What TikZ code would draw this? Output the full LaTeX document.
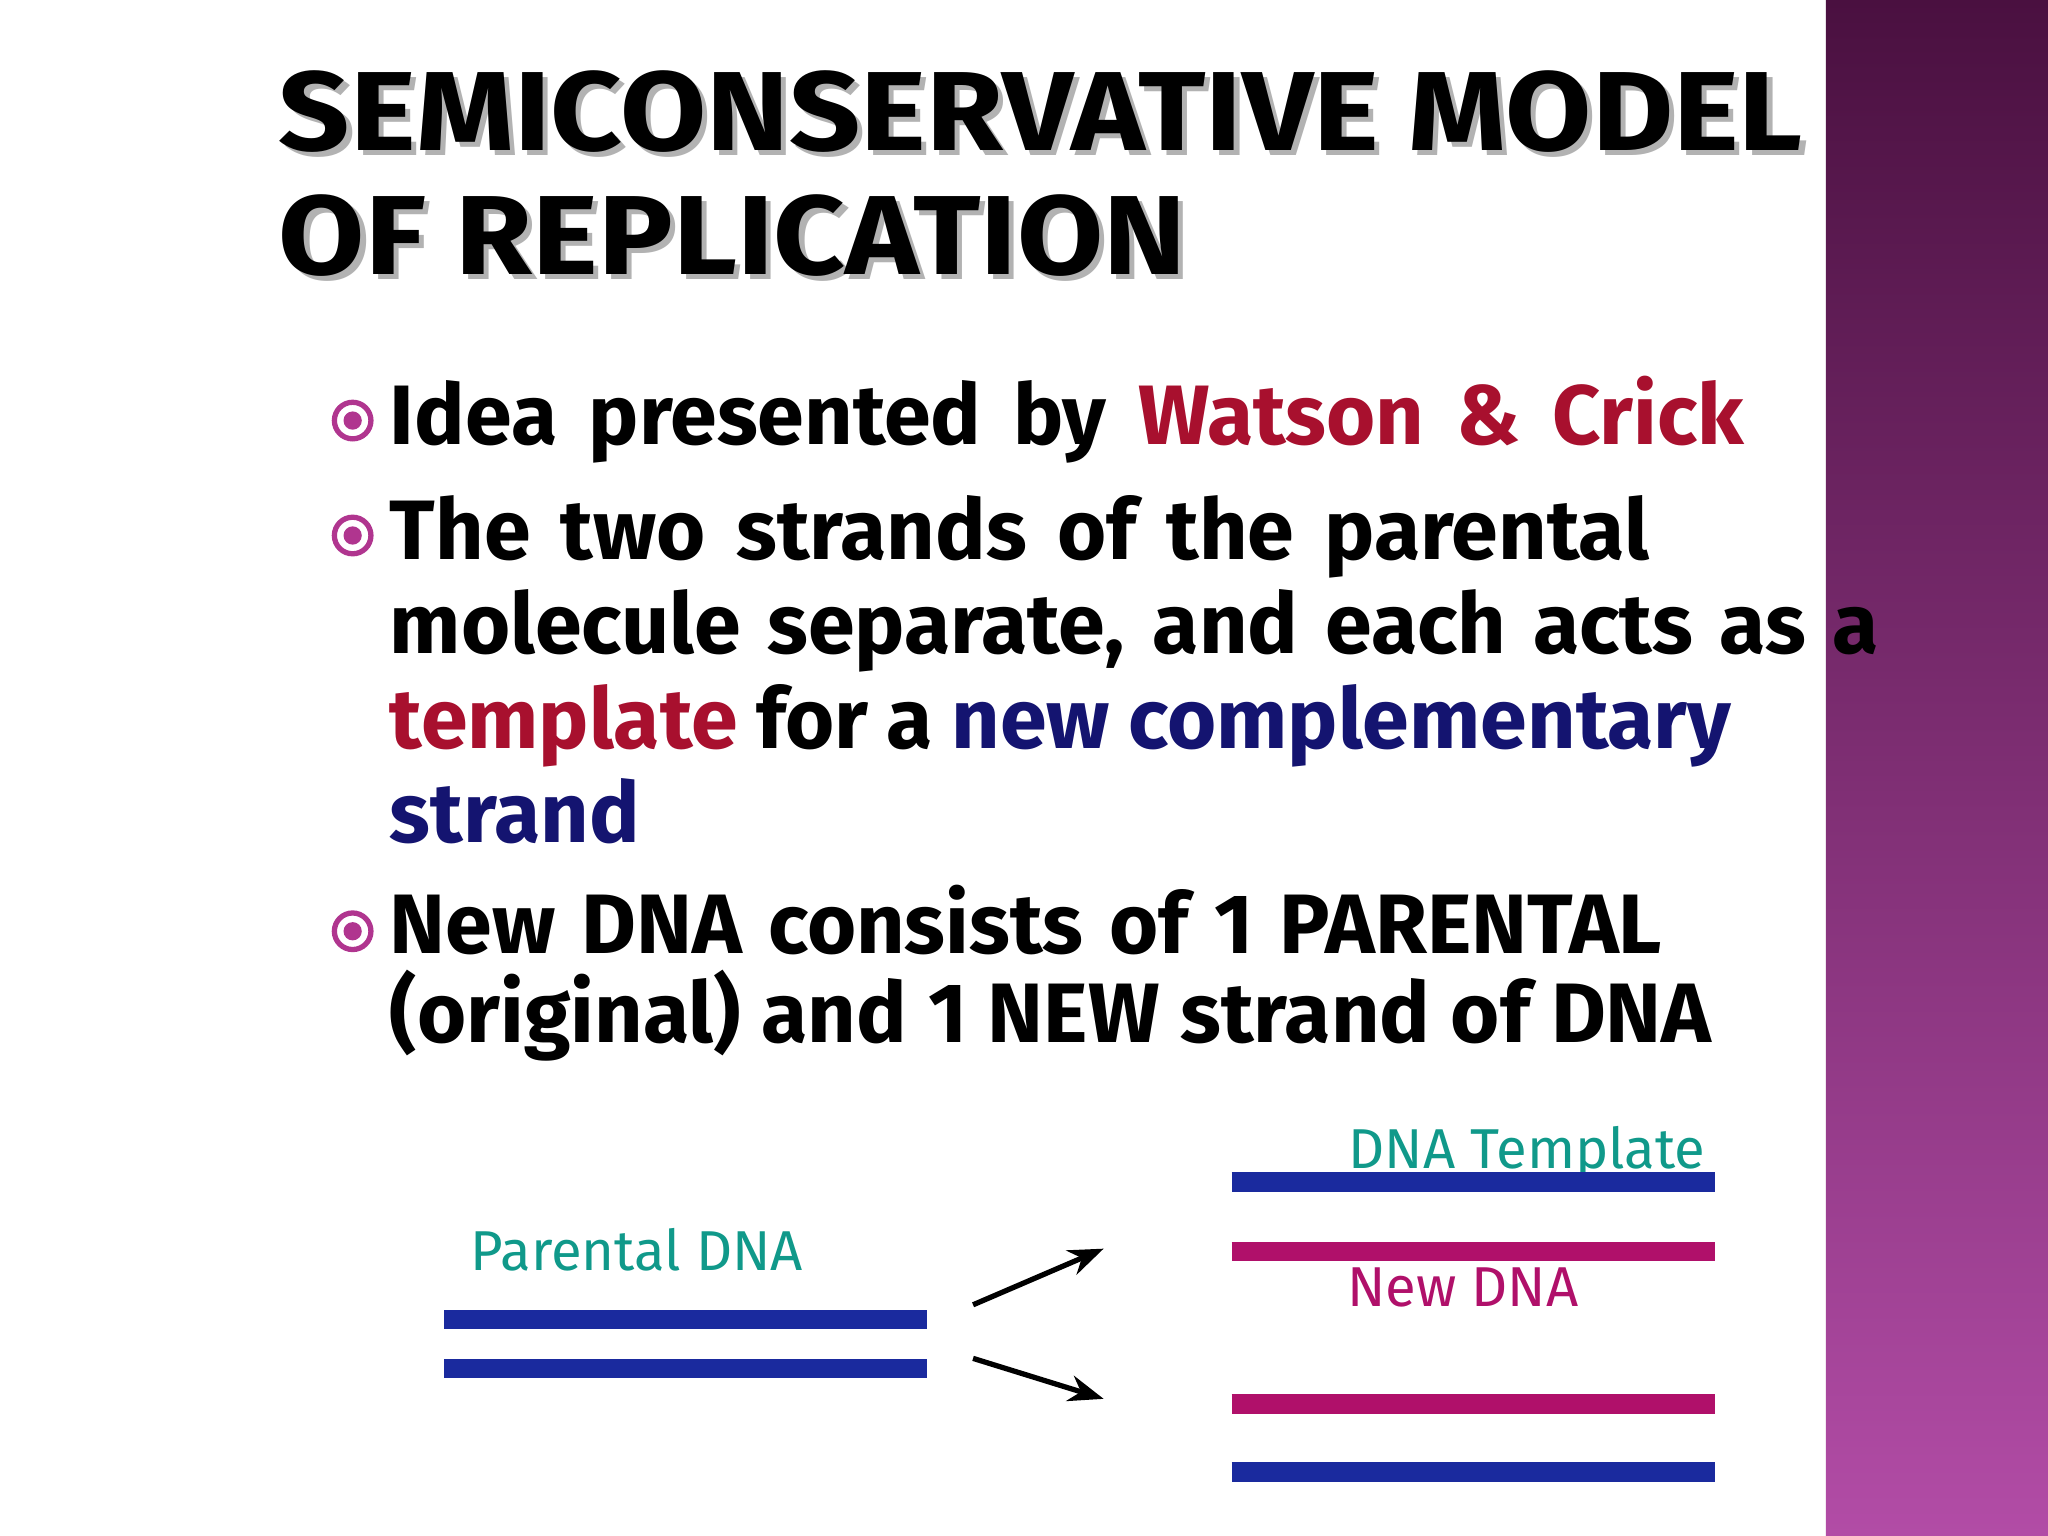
\documentclass[tikz,border=0pt]{standalone}
\usepackage{fontspec}
\setmainfont{Fira Sans}
\usetikzlibrary{arrows.meta}
\definecolor{bar1}{HTML}{4A1040}
\definecolor{bar2}{HTML}{B24CA6}
\definecolor{dred}{HTML}{A8102E}
\definecolor{dblue}{HTML}{141470}
\definecolor{lblue}{HTML}{1A2A9E}
\definecolor{mag}{HTML}{B0106A}
\definecolor{teal2}{HTML}{10998A}
\definecolor{bul}{HTML}{B0358F}
\newcommand{\jbox}[2]{\makebox[#1\dimexpr 0.013061cm\relax][s]{#2}}
\begin{document}
\begin{tikzpicture}[x=0.013061cm,y=-0.013061cm,
 title/.style={anchor=base west,inner sep=0,xscale=1.11,transform shape,font=\fontsize{32}{36}\selectfont\bfseries},
 btxt/.style={anchor=base west,inner sep=0,font=\fontsize{24}{28}\selectfont\bfseries},
 lab/.style={anchor=base west,inner sep=0,font=\fontsize{16}{18}\selectfont},
 strand/.style={line width=5.5pt},
 arr/.style={line width=1.5pt,-{Stealth[length=10pt]}}]
\useasboundingbox (0,0) rectangle (1568,1176);
\fill[white] (0,0) rectangle (1568,1176);
\shade[top color=bar1,bottom color=bar2] (1398,0) rectangle (1568,1176);
\foreach \t/\y/\n in {SEMICONSERVATIVE MODEL/115/t1,OF REPLICATION/210/t2}{
 \node[title,text=gray!60] at (217,\y+4) {\t};
 \node[title] (\n) at (213,\y) {\t};}
\foreach \y in {322,410,713}{
 \draw[bul,line width=1.5pt] (270,\y) circle (14);
 \fill[bul] (270,\y) circle (7);}
\node[btxt] (b1) at (298,340) {\jbox{1037}{Idea presented by \textcolor{dred}{Watson \& Crick}}};
\node[btxt] (b2a) at (298,428) {\jbox{964}{The two strands of the parental}};
\node[btxt] (b2b) at (298,500) {\jbox{1140}{molecule separate, and each acts as a}};
\node[btxt] (b2c) at (298,573) {\jbox{1027}{\textcolor{dred}{template} for a \textcolor{dblue}{new complementary}}};
\node[btxt,text=dblue] (b2d) at (298,645) {strand};
\node[btxt] (b3a) at (298,730) {\jbox{974}{New DNA consists of 1 PARENTAL}};
\node[btxt] (b3b) at (298,798) {\jbox{1012}{(original) and 1 NEW strand of DNA}};
\node[lab,text=teal2] (pl) at (360,973) {Parental DNA};
\node[lab,text=teal2] (tl) at (1032,895) {DNA Template};
\node[lab,text=mag] (nl) at (1031,1000) {New DNA};
\coordinate (p1a) at (340,1010); \coordinate (p1b) at (710,1010);
\coordinate (p2a) at (340,1048); \coordinate (p2b) at (710,1048);
\draw[strand,lblue] (p1a)--(p1b); \draw[strand,lblue] (p2a)--(p2b);
\coordinate (a1s) at (745,999); \coordinate (a1e) at (845,956);
\coordinate (a2s) at (745,1040); \coordinate (a2e) at (845,1071);
\draw[arr] (a1s)--(a1e); \draw[arr] (a2s)--(a2e);
\coordinate (r1a) at (943,905); \coordinate (r1b) at (1313,905);
\coordinate (r2a) at (943,958); \coordinate (r2b) at (1313,958);
\coordinate (r3a) at (943,1075); \coordinate (r3b) at (1313,1075);
\coordinate (r4a) at (943,1127); \coordinate (r4b) at (1313,1127);
\draw[strand,lblue] (r1a)--(r1b); \draw[strand,mag] (r2a)--(r2b);
\draw[strand,mag] (r3a)--(r3b); \draw[strand,lblue] (r4a)--(r4b);
\end{tikzpicture}
\end{document}
